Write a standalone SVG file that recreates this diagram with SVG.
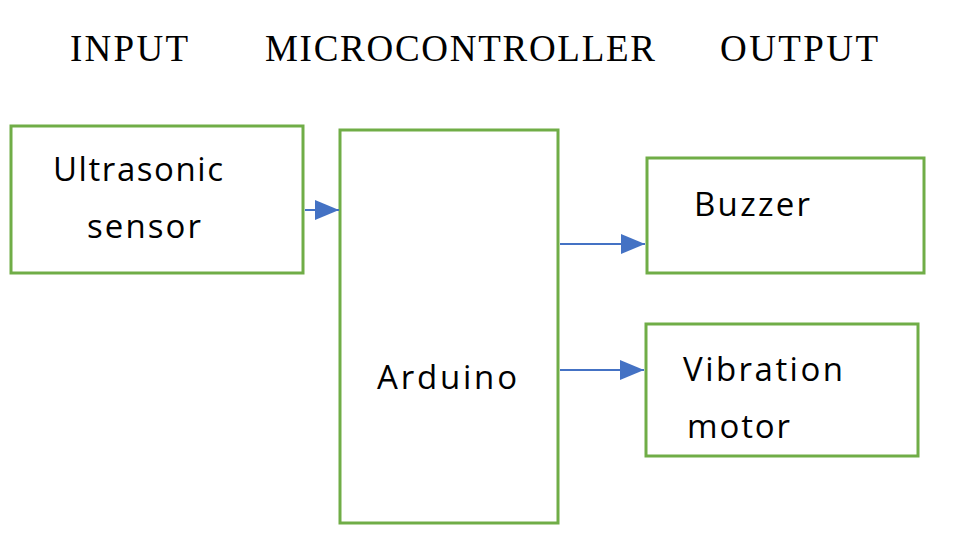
<svg xmlns="http://www.w3.org/2000/svg" width="953" height="553" viewBox="0 0 953 553">
<defs>
<style>
.box{fill:#fff;stroke:#70ad47;stroke-width:3}
.t{font-family:"Open Sans","Liberation Sans",sans-serif;font-size:33px;fill:#000}
.h{font-family:"Liberation Serif",serif;font-size:37px;fill:#000}
.c{stroke:#4472c4;stroke-width:2;fill:none}
</style>
<marker id="b" markerWidth="24" markerHeight="20" refX="24" refY="10" orient="auto" markerUnits="userSpaceOnUse"><path d="M0,0 L24,10 L0,20Z" fill="#4472c4"/></marker>
</defs>
<rect width="953" height="553" fill="#fff"/>
<text class="h" x="70" y="61" textLength="118">INPUT</text>
<text class="h" x="265" y="61" textLength="390">MICROCONTROLLER</text>
<text class="h" x="720" y="61" textLength="158">OUTPUT</text>
<g id="ultrasonic"><rect class="box" x="11" y="126" width="292" height="147"/><text class="t" x="53" y="181" textLength="170">Ultrasonic</text><text class="t" x="87" y="238" textLength="114">sensor</text></g>
<g id="arduino"><rect class="box" x="340" y="130" width="218" height="393"/><text class="t" x="377" y="389" textLength="140">Arduino</text></g>
<g id="buzzer"><rect class="box" x="647" y="158" width="277" height="115"/><text class="t" x="694" y="216" textLength="116">Buzzer</text></g>
<g id="vibration"><rect class="box" x="646" y="324" width="272" height="132"/><text class="t" x="683" y="381" textLength="160">Vibration</text><text class="t" x="687" y="438" textLength="103">motor</text></g>
<g id="connectors">
<line class="c" x1="305" y1="210" x2="339" y2="210" marker-end="url(#b)"/>
<line class="c" x1="560" y1="244" x2="645" y2="244" marker-end="url(#b)"/>
<line class="c" x1="560" y1="370" x2="644" y2="370" marker-end="url(#b)"/>
</g>
</svg>
